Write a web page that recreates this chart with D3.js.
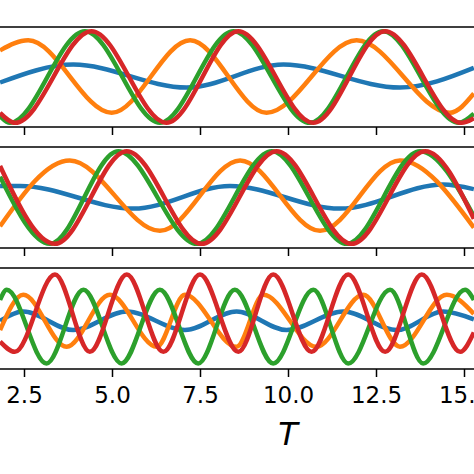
<!DOCTYPE html>
<html><head><meta charset="utf-8">
<script src="https://cdn.jsdelivr.net/npm/d3@7"></script>
<style>body{margin:0;background:#fff}svg{display:block}</style>
</head><body>
<svg id="chart" width="474" height="474"></svg>
<script>
// Tick labels on the shared T axis
var tickValues = [2.5, 5.0, 7.5, 10.0, 12.5, 15.0]

// Series as [T, value] points at turning points
var p1Blue   = [[1.82,-0.12],[3.9,0.27],[7.12,-0.23],[9.87,0.27],[13.18,-0.23],[15.28,0.2]]
var p1Orange = [[1.82,0.58],[2.62,0.8],[4.99,-0.78],[7.22,0.8],[9.39,-0.78],[11.95,0.8],[14.6,-0.78],[15.28,-0.36]]
var p1Green  = [[1.82,-0.85],[2.1,-1.0],[4.23,1.0],[6.36,-1.0],[8.45,1.0],[10.62,-1.0],[12.7,1.0],[14.85,-1.0],[15.28,-0.8]]
var p1Red    = [[1.82,-0.78],[2.25,-1.0],[4.42,1.0],[6.55,-1.0],[8.59,1.0],[10.72,-1.0],[12.76,1.0],[14.93,-1.0],[15.28,-0.9]]

var p2Blue   = [[1.82,0.25],[2.39,0.25],[5.61,-0.24],[8.35,0.25],[11.48,-0.24],[14.41,0.28],[15.28,0.18]]
var p2Orange = [[1.82,-0.62],[3.8,0.8],[6.36,-0.72],[8.64,0.8],[10.91,-0.72],[13.18,0.8],[15.28,-0.65]]
var p2Green  = [[1.82,0.45],[3.24,-1.0],[5.18,1.0],[7.41,-1.0],[9.54,1.0],[11.67,-1.0],[13.75,1.0],[15.28,-0.4]]
var p2Red    = [[1.82,0.68],[3.38,-1.0],[5.42,1.0],[7.55,-1.0],[9.68,1.0],[11.81,-1.0],[13.9,1.0],[15.28,-0.46]]

var p3Blue   = [[1.82,-0.05],[2.48,0.15],[3.9,-0.25],[5.42,0.15],[7.07,-0.25],[8.54,0.15],[9.96,-0.25],[11.57,0.15],[13.09,-0.25],[14.41,0.15],[15.28,-0.02]]
var p3Orange = [[1.82,-0.25],[2.48,0.51],[3.71,-0.61],[4.94,0.51],[6.27,-0.61],[7.07,0.51],[8.54,-0.61],[9.3,0.51],[10.81,-0.61],[12.14,0.51],[13.18,-0.61],[14.51,0.51],[15.28,0.1]]
var p3Green  = [[1.82,0.4],[2.01,0.62],[3.14,-0.97],[4.19,0.62],[5.27,-0.97],[6.36,0.62],[7.45,-0.97],[8.49,0.62],[9.58,-0.97],[10.72,0.62],[11.71,-0.97],[12.9,0.62],[13.84,-0.97],[15.03,0.62],[15.28,0.4]]
var p3Red    = [[1.82,-0.5],[2.24,-0.72],[3.38,0.95],[4.37,-0.72],[5.42,0.95],[6.46,-0.72],[7.5,0.95],[8.59,-0.72],[9.58,0.95],[10.67,-0.72],[11.71,0.95],[12.76,-0.72],[13.8,0.95],[14.89,-0.72],[15.28,-0.3]]

var colors = ['#1f77b4', '#ff7f0e', '#2ca02c', '#d62728']

var panels = [
  {top: 27,  bottom: 127, series: [p1Blue, p1Orange, p1Green, p1Red]},
  {top: 147, bottom: 248, series: [p2Blue, p2Orange, p2Green, p2Red]},
  {top: 268, bottom: 369, series: [p3Blue, p3Orange, p3Green, p3Red]}
]

var svg = d3.select('#chart')

var x = d3.scaleLinear().domain([0, 2.5]).range([-64, 24])

panels.forEach(function(p, i) {
  var y = d3.scaleLinear().domain([-1.09, 1.09]).range([p.bottom, p.top])
  var g = svg.append('g')

  var clipId = 'clip' + i
  g.append('clipPath').attr('id', clipId)
    .append('rect').attr('x', -10).attr('y', p.top).attr('width', 500).attr('height', p.bottom - p.top)

  var line = d3.line()
    .x(function(d) { return x(d[0]) })
    .y(function(d) { return y(d[1]) })
    .curve(d3.curveMonotoneX)

  p.series.forEach(function(s, k) {
    g.append('path')
      .attr('d', line(s))
      .attr('clip-path', 'url(#' + clipId + ')')
      .attr('fill', 'none')
      .attr('stroke', colors[k])
      .attr('stroke-width', 4.5)
      .attr('stroke-linejoin', 'round')
  })

  // frame (side spines sit outside the crop)
  g.append('rect')
    .attr('x', -10).attr('y', p.top)
    .attr('width', 500).attr('height', p.bottom - p.top)
    .attr('fill', 'none').attr('stroke', '#000').attr('stroke-width', 1.5)

  var axis = d3.axisBottom(x).tickValues(tickValues).tickSize(8).tickSizeOuter(0)
    .tickFormat(i == 2 ? d3.format('.1f') : '')
  var ax = g.append('g').attr('transform', 'translate(0,' + p.bottom + ')').call(axis)
  ax.select('.domain').remove()
  ax.selectAll('line').attr('stroke', '#000').attr('stroke-width', 1.5)
  ax.selectAll('text')
    .attr('fill', '#000')
    .style('font-family', 'DejaVu Sans')
    .style('font-size', '23px')
    .attr('dy', '1.0em')
})

svg.append('text')
  .text('T')
  .attr('x', 288).attr('y', 445)
  .attr('text-anchor', 'middle')
  .style('font-family', 'DejaVu Sans')
  .style('font-style', 'italic')
  .style('font-size', '32px')
</script>
</body></html>
